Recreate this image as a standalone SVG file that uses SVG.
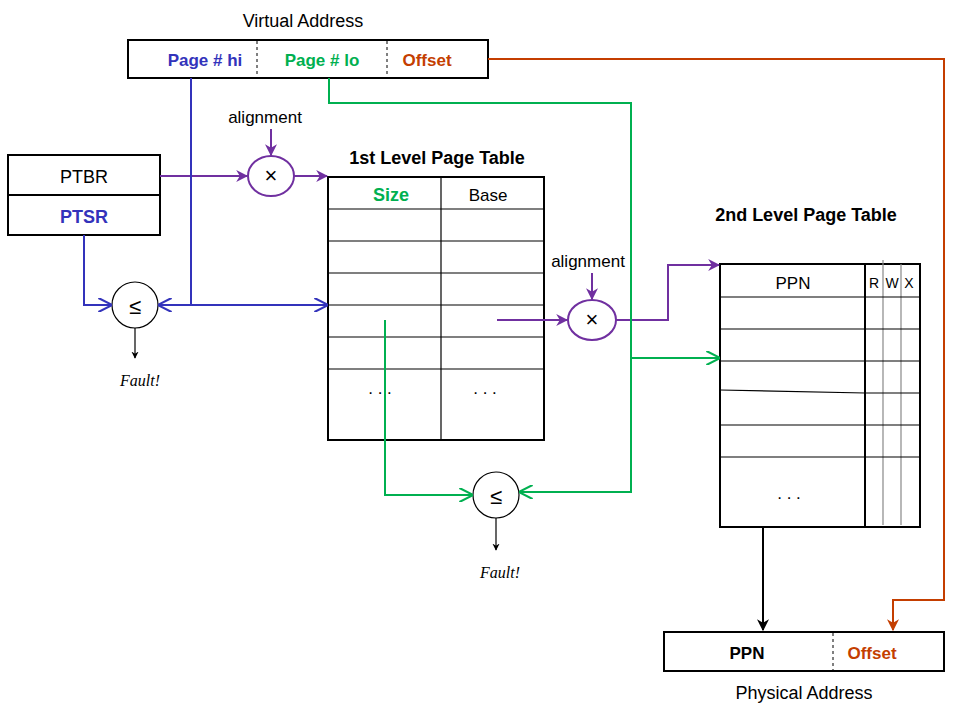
<svg xmlns="http://www.w3.org/2000/svg" width="960" height="720" viewBox="0 0 960 720">
<style>
text{font-family:"Liberation Sans",Arial,sans-serif;font-size:17px;text-anchor:middle}
.b{font-weight:bold}
.t{font-size:18px}
.big{font-size:22px}
.sm{font-size:14px}
.box{fill:#fff;stroke:#000;stroke-width:2}
.ln{stroke:#000;stroke-width:1.2}
.g{stroke:#888;stroke-width:1.2}
.dash{stroke:#000;stroke-dasharray:3,3;stroke-width:1}
.c{fill:none;stroke-width:2}
.pu{stroke:#7030a0}.bl{stroke:#3333bb}.gr{stroke:#00b050}.or{stroke:#c43e00}.bk{stroke:#000}
.fault{font-family:"Liberation Serif",serif;font-style:italic;font-size:16px}
</style>
<defs>
<marker id="mp" viewBox="0 0 10 10" refX="9" refY="5" markerWidth="6" markerHeight="6" orient="auto"><path d="M0,0L10,5L0,10L3,5z" fill="#7030a0"/></marker>
<marker id="mb" viewBox="0 0 10 10" refX="9" refY="5" markerWidth="7" markerHeight="7" orient="auto-start-reverse"><path d="M0,0L10,5L0,10" fill="none" stroke="#3333bb" stroke-width="1.5"/></marker>
<marker id="mg" viewBox="0 0 10 10" refX="9" refY="5" markerWidth="7" markerHeight="7" orient="auto"><path d="M0,0L10,5L0,10" fill="none" stroke="#00b050" stroke-width="1.5"/></marker>
<marker id="mo" viewBox="0 0 10 10" refX="9" refY="5" markerWidth="6" markerHeight="6" orient="auto"><path d="M0,0L10,5L0,10L3,5z" fill="#c43e00"/></marker>
<marker id="mk" viewBox="0 0 10 10" refX="9" refY="5" markerWidth="6" markerHeight="6" orient="auto"><path d="M0,0L10,5L0,10L3,5z" fill="#000"/></marker>
</defs>

<g id="virtual-address">
<text x="303" y="27" class="t">Virtual Address</text>
<rect class="box" x="128" y="40" width="360" height="38"/>
<line class="dash" x1="257" y1="41" x2="257" y2="77"/>
<line class="dash" x1="387" y1="41" x2="387" y2="77"/>
<text class="b" x="205" y="66" fill="#3333bb">Page # hi</text>
<text class="b" x="322" y="66" fill="#00b050">Page # lo</text>
<text class="b" x="427" y="66" fill="#c43e00">Offset</text>
</g>

<g id="ptbr">
<rect class="box" x="8" y="155" width="152" height="80"/>
<line x1="8" y1="195" x2="160" y2="195" stroke="#000" stroke-width="2"/>
<text x="84" y="183" class="t">PTBR</text>
<text class="b t" x="84" y="223" fill="#3333bb">PTSR</text>
</g>

<g id="mul1">
<text x="265" y="123">alignment</text>
<ellipse cx="271" cy="176" rx="23" ry="20" fill="#fff" stroke="#7030a0" stroke-width="2"/>
<text x="271" y="183" class="big">×</text>
</g>

<g id="cmp1">
<circle cx="135" cy="305" r="23" fill="#fff" stroke="#000" stroke-width="1.2"/>
<text x="135" y="314" class="big">≤</text>
<text class="fault" x="140" y="386">Fault!</text>
</g>

<g id="table1">
<text class="b t" x="437" y="164">1st Level Page Table</text>
<rect class="box" x="328" y="177" width="216" height="263"/>
<line class="ln" x1="441" y1="177" x2="441" y2="440"/>
<g class="ln"><line x1="328" y1="209" x2="544" y2="209"/><line x1="328" y1="241" x2="544" y2="241"/><line x1="328" y1="273" x2="544" y2="273"/><line x1="328" y1="305" x2="544" y2="305"/><line x1="328" y1="337" x2="544" y2="337"/><line x1="328" y1="369" x2="544" y2="369"/></g>
<text class="b t" x="391" y="201" fill="#00b050">Size</text>
<text x="488" y="201">Base</text>
<text x="380" y="394">. . .</text>
<text x="485" y="394">. . .</text>
</g>

<g id="mul2">
<text x="588" y="267">alignment</text>
<ellipse cx="592" cy="320" rx="24" ry="20" fill="#fff" stroke="#7030a0" stroke-width="2"/>
<text x="592" y="327" class="big">×</text>
</g>

<g id="cmp2">
<circle cx="496" cy="495" r="23" fill="#fff" stroke="#000" stroke-width="1.2"/>
<text x="496" y="504" class="big">≤</text>
<text class="fault" x="500" y="578">Fault!</text>
</g>

<g id="table2">
<text class="b t" x="806" y="221">2nd Level Page Table</text>
<rect class="box" x="720" y="264" width="200" height="263"/>
<line x1="865" y1="264" x2="865" y2="527" stroke="#000" stroke-width="2"/>
<line class="g" x1="883" y1="260" x2="883" y2="525"/>
<line class="g" x1="901" y1="264" x2="901" y2="525"/>
<g class="ln"><line x1="720" y1="297" x2="920" y2="297"/><line x1="720" y1="329" x2="920" y2="329"/><line x1="720" y1="361" x2="920" y2="361"/><line x1="720" y1="390" x2="865" y2="393"/><line x1="865" y1="393" x2="920" y2="393"/><line x1="720" y1="425" x2="920" y2="425"/><line x1="720" y1="457" x2="920" y2="457"/></g>
<text x="793" y="289">PPN</text>
<text x="874" y="288" class="sm">R</text>
<text x="892" y="288" class="sm">W</text>
<text x="909" y="288" class="sm">X</text>
<text x="789" y="499">. . .</text>
</g>

<g id="physical-address">
<rect class="box" x="664" y="632" width="280" height="39"/>
<line class="dash" x1="833" y1="633" x2="833" y2="670"/>
<text class="b" x="747" y="659">PPN</text>
<text class="b" x="872" y="659" fill="#c43e00">Offset</text>
<text x="804" y="699" class="t">Physical Address</text>
</g>

<g id="connectors">
<path class="c pu" d="M160,176H247" marker-end="url(#mp)"/>
<path class="c pu" d="M294,176H327" marker-end="url(#mp)"/>
<path class="c pu" d="M271,129V155" marker-end="url(#mp)"/>
<path class="c pu" d="M497,320H567" marker-end="url(#mp)"/>
<path class="c pu" d="M592,273V299" marker-end="url(#mp)"/>
<path class="c pu" d="M616,320H668V265H719" marker-end="url(#mp)"/>
<path class="c bl" d="M191,78V305"/>
<path class="c bl" d="M159,305H327" marker-start="url(#mb)" marker-end="url(#mb)"/>
<path class="c bl" d="M84,235V305H111" marker-end="url(#mb)"/>
<path class="c gr" d="M329,78V103H631V492H520" marker-end="url(#mg)"/>
<path class="c gr" d="M631,358H719" marker-end="url(#mg)"/>
<path class="c gr" d="M385,320V495H472" marker-end="url(#mg)"/>
<path class="c or" d="M488,59H944V600H893V630" marker-end="url(#mo)"/>
<path class="c bk" d="M763,527V630" marker-end="url(#mk)"/>
<path class="bk" stroke-width="1.2" d="M135,328V358" marker-end="url(#mk)"/>
<path class="bk" stroke-width="1.2" d="M496,518V550" marker-end="url(#mk)"/>
</g>
</svg>
